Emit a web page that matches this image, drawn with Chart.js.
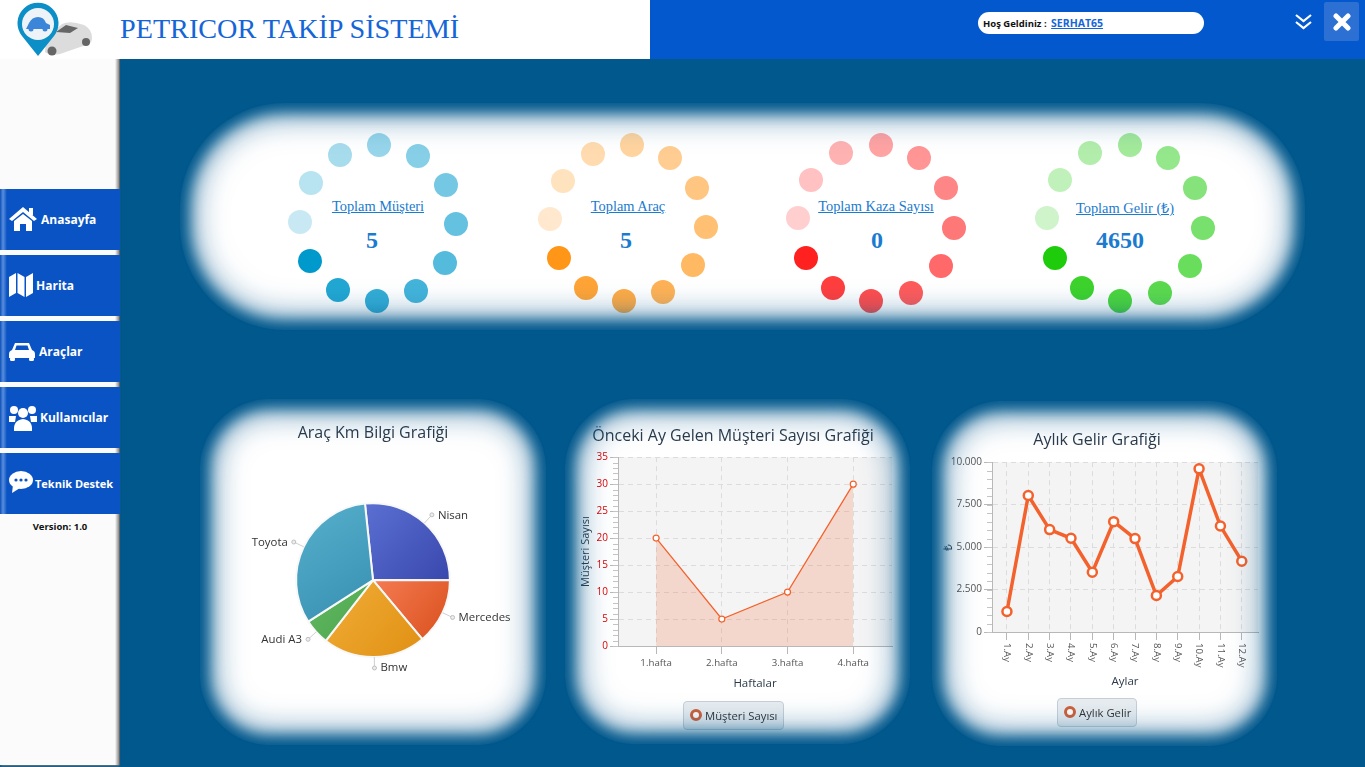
<!DOCTYPE html>
<html>
<head>
<meta charset="utf-8">
<title>Petricor Takip Sistemi</title>
<script src="https://cdn.jsdelivr.net/npm/chart.js@4"></script>
<style>
html,body{margin:0;padding:0;width:1365px;height:767px;overflow:hidden;background:#00588c;font-family:"Open Sans",sans-serif}
.abs{position:absolute}
#headLeft{position:absolute;left:0;top:0;width:650px;height:59px;background:#fff}
#headRight{position:absolute;left:650px;top:0;width:715px;height:59px;background:#0258cc}
#appTitle{position:absolute;left:120px;top:13px;font:28.2px "Liberation Serif",serif;color:#1565d8;white-space:nowrap}
#pill{position:absolute;left:978px;top:12px;width:226px;height:22px;border-radius:11px;background:#fff;font-size:9.5px;font-weight:700;color:#111;line-height:22px;text-indent:5px;white-space:nowrap}
#pill a{color:#1565d8;text-decoration:underline;font-size:10.5px;margin-left:2px}
#closeBtn{position:absolute;left:1324px;top:2px;width:35px;height:39px;background:#2b70d2;border-radius:2px}
#side{position:absolute;left:0;top:59px;width:120px;height:706px;background:linear-gradient(90deg,#fbfbfb 0,#fbfbfb 115px,#8a8a8a 119px,#444 120px);box-shadow:0 2px 2px -1px #777}
.nav{position:absolute;left:0;width:120px;height:61px;background:linear-gradient(90deg,#0a50bb 0,#5b8edc 3px,#0a53c4 7px,#0a53c4 100%);color:#fff;font-weight:700;font-size:12px;line-height:61px;white-space:nowrap}
.nav svg{position:absolute;left:9px;top:17px}
.nav span{position:absolute}
#version{position:absolute;left:0;top:520px;width:120px;text-align:center;font-size:9.5px;font-weight:700;color:#111}
.panel{position:absolute;background:#fff}
.shade{position:absolute;left:-1px;top:-1px;right:-1px;bottom:-1px;border-radius:inherit;pointer-events:none;box-shadow:inset 0 0 14px 10px #00588c,inset 0 0 30px 16px rgba(0,88,140,.55)}
.dot{position:absolute;width:24px;height:24px;border-radius:50%}
.statName{position:absolute;width:180px;text-align:center;font:14.4px "Liberation Serif",serif;color:#1a7bcf;text-decoration:underline;white-space:nowrap}
.statVal{position:absolute;width:120px;text-align:center;font:bold 24px "Liberation Serif",serif;color:#1a7bcf}
canvas{position:absolute}
.legendBox{position:absolute;height:27px;line-height:27px;border:1px solid #c6d0d8;border-radius:4px;background:rgba(205,215,222,.45);font-size:11.3px;color:#333;white-space:nowrap}
.legendBox i{position:absolute;left:6px;top:7px;box-sizing:border-box;width:12px;height:12px;border-radius:50%;border:3px solid #d0603a;background:#fff}
.legendBox span{position:absolute;left:21px}
</style>
</head>
<body>
<div id="headLeft">
<svg class="abs" style="left:0;top:0" width="100" height="59" viewBox="0 0 100 59">
<path d="M46 38 L62 24 Q70 20 84 25 Q92 29 92 38 Q92 44 86 45 L60 54 Q50 56 45 52Z" fill="#dcdcdc"/>
<path d="M56 32 L66 25 L78 28 L70 33Z" fill="#666"/>
<circle cx="52" cy="51" r="4.5" fill="#666"/><circle cx="86" cy="42" r="4" fill="#666"/>
<path d="M38 56 L22 36 A20.5 20.5 0 1 1 54 36Z" fill="#0b8fc6"/>
<circle cx="38" cy="24" r="16" fill="#eef3f7"/>
<path d="M26 29 L29 23 Q32 17 38 17 Q44 17 46 23 L50 25 L50 29Z" fill="#3b86d8"/>
<circle cx="31" cy="29" r="2.5" fill="#3b86d8"/><circle cx="45" cy="29" r="2.5" fill="#3b86d8"/>
</svg>
<div id="appTitle">PETRICOR TAKİP SİSTEMİ</div>
</div>
<div id="headRight"></div>
<div id="pill">Hoş Geldiniz : <a>SERHAT65</a></div>
<svg class="abs" style="left:1294px;top:13px" width="19" height="18" viewBox="0 0 19 18" fill="none" stroke="#fff" stroke-width="2.2"><path d="M2 2 L9.5 8 L17 2"/><path d="M2 9 L9.5 15 L17 9"/></svg>
<div id="closeBtn"><svg class="abs" style="left:9px;top:11px" width="18" height="18" viewBox="0 0 18 18" stroke="#fff" stroke-width="5" stroke-linecap="round"><path d="M3 3 L15 15 M15 3 L3 15"/></svg></div>

<div id="side"></div>
<div id="navs"></div>
<div id="version">Version: 1.0</div>

<div class="panel" id="statPanel" style="left:180px;top:103px;width:1125px;height:227px;border-radius:105px"></div>

<div class="panel" style="left:200px;top:399px;width:346px;height:346px;border-radius:70px">
<canvas id="pieChart" width="330" height="330" style="left:10px;top:11px"></canvas>
<div class="shade"></div>
</div>
<div class="panel" style="left:565px;top:399px;width:345px;height:345px;border-radius:70px">
<canvas id="customerChart" width="340" height="330" style="left:5px;top:11px"></canvas>
<div class="legendBox" id="customerLegend" style="left:118px;top:302px;width:99px"></div>
<div class="shade"></div>
</div>
<div class="panel" style="left:932px;top:401px;width:345px;height:345px;border-radius:70px">
<canvas id="incomeChart" width="340" height="330" style="left:-2px;top:9px"></canvas>
<div class="legendBox" id="incomeLegend" style="left:125px;top:297px;width:78px"></div>
<div class="shade"></div>
</div>

<script>
// top row
const statNames = ['Toplam Müşteri', 'Toplam Araç', 'Toplam Kaza Sayısı', 'Toplam Gelir (₺)']
const statValues = ['5', '5', '0', '4650']
const statColors = ['#0099cc', '#ff9617', '#ff2020', '#1fcc0c']

// sidebar
const navNames = ['Anasayfa', 'Harita', 'Araçlar', 'Kullanıcılar', 'Teknik Destek']

// pie
const pieTitle = 'Araç Km Bilgi Grafiği'
const pieLabels = ['Nisan', 'Mercedes', 'Bmw', 'Audi A3', 'Toyota']
const pieValues = [26.7, 13.9, 21.6, 5.4, 32.4]
const pieLight = ['#5b70d2', '#f57b52', '#f2ad38', '#62bb62', '#57b0cc']
const pieDark = ['#3947ad', '#d94f1c', '#df9012', '#4ca54c', '#368fb1']

// customers per week
const customerTitle = 'Önceki Ay Gelen Müşteri Sayısı Grafiği'
const weekLabels = ['1.hafta', '2.hafta', '3.hafta', '4.hafta']
const customerValues = [20, 5, 10, 30]
const customerSeries = 'Müşteri Sayısı'

// monthly income
const incomeTitle = 'Aylık Gelir Grafiği'
const monthLabels = ['1.Ay', '2.Ay', '3.Ay', '4.Ay', '5.Ay', '6.Ay', '7.Ay', '8.Ay', '9.Ay', '10.Ay', '11.Ay', '12.Ay']
const incomeValues = [1210, 8040, 6030, 5520, 3520, 6500, 5500, 2150, 3270, 9610, 6240, 4170]
const incomeSeries = 'Aylık Gelir'

const orange = '#f3622d'
const fontName = '"Open Sans", sans-serif'

var navIcons = [
    '<svg width="28" height="26" viewBox="0 0 28 26" fill="#fff"><path d="M14 1 L28 13 L25 15 L14 6 L3 15 L0 13Z"/><path d="M5 15 L14 8 L23 15 V25 H17 V18 H11 V25 H5Z"/><rect x="20" y="2" width="4" height="7"/></svg>',
    '<svg width="24" height="26" viewBox="0 0 24 26" fill="#fff"><path d="M0 5 L7 1 V21 L0 25Z"/><path d="M8.5 1 L15.5 5 V25 L8.5 21Z"/><path d="M17 5 L24 1 V21 L17 25Z"/></svg>',
    '<svg width="26" height="26" viewBox="0 0 26 26" fill="#fff"><path d="M6 5 H20 L23 12 Q26 13 26 16 V20 H0 V16 Q0 13 3 12Z M7.5 7.5 L6 12 H20 L18.5 7.5Z" fill-rule="evenodd"/><rect x="1" y="19" width="5" height="4" rx="1.5"/><rect x="20" y="19" width="5" height="4" rx="1.5"/></svg>',
    '<svg width="28" height="28" viewBox="0 0 28 28" fill="#fff"><circle cx="5" cy="6" r="4"/><circle cx="23" cy="6" r="4"/><circle cx="14" cy="9" r="5"/><path d="M0 12 H7 L6 18 H0Z"/><path d="M28 12 H21 L22 18 H28Z"/><path d="M5 27 Q4 16 14 15 Q24 16 23 27Z"/></svg>',
    '<svg width="24" height="24" viewBox="0 0 24 24"><ellipse cx="12" cy="10" rx="12" ry="9" fill="#fff"/><path d="M4 15 L3 23 L11 18Z" fill="#fff"/><circle cx="7" cy="10" r="1.6" fill="#0a53c4"/><circle cx="12" cy="10" r="1.6" fill="#0a53c4"/><circle cx="17" cy="10" r="1.6" fill="#0a53c4"/></svg>'
]
var navTextLeft = [41, 36, 39, 40, 35]

function buildNav() {
    var html = ''
    for (var i = 0; i < navNames.length; i++) {
        html += `<div class="nav" style="top:${189 + i * 66}px">${navIcons[i]}<span style="left:${navTextLeft[i]}px;${i == 4 ? 'font-size:11px' : ''}">${navNames[i]}</span></div>`
    }
    document.getElementById('navs').innerHTML = html
}

function buildStats() {
    var panel = document.getElementById('statPanel')
    var centers = [378, 628, 876, 1125]
    var valueCenters = [372, 626, 877, 1120]
    var start = [151, 153, 153.5, 153.5]
    var html = ''
    for (var i = 0; i < 4; i++) {
        var cx = centers[i] - 180
        var cy = 223 - 103
        for (var d = 0; d < 12; d++) {
            // bright dot first, fading counterclockwise round the ring
            var a = (start[i] - d * 30) * Math.PI / 180
            var x = cx + 78 * Math.cos(a)
            var y = cy + 78 * Math.sin(a)
            var op = d == 0 ? 1 : 0.93 - d * 0.065
            html += `<div class="dot" style="left:${x - 12}px;top:${y - 12}px;background:${statColors[i]};opacity:${op}"></div>`
        }
        html += `<div class="statName" style="left:${cx - 90}px;top:${198 - 103}px">${statNames[i]}</div>`
        html += `<div class="statVal" style="left:${valueCenters[i] - 180 - 60}px;top:${227 - 103}px">${statValues[i]}</div>`
    }
    html += '<div class="shade"></div>'
    panel.innerHTML = html
}

// gradient across the bounding box of one slice
function sliceGradient(ctx) {
    var chart = ctx.chart
    var area = chart.chartArea
    var i = ctx.dataIndex
    if (!area || i === undefined) return pieLight[0]
    var cx = (area.left + area.right) / 2
    var cy = (area.top + area.bottom) / 2
    var r = Math.min(area.width, area.height) / 2
    var sum = 0
    var total = 0
    for (var k = 0; k < pieValues.length; k++) total += pieValues[k]
    for (var k = 0; k < i; k++) sum += pieValues[k]
    var a0 = (-6 + sum / total * 360 - 90) * Math.PI / 180
    var a1 = a0 + pieValues[i] / total * Math.PI * 2
    var x0 = cx, x1 = cx, y0 = cy, y1 = cy
    for (var s = 0; s <= 20; s++) {
        var a = a0 + (a1 - a0) * s / 20
        x0 = Math.min(x0, cx + r * Math.cos(a))
        x1 = Math.max(x1, cx + r * Math.cos(a))
        y0 = Math.min(y0, cy + r * Math.sin(a))
        y1 = Math.max(y1, cy + r * Math.sin(a))
    }
    var g = chart.ctx.createLinearGradient(x0, y0, x1, y1)
    g.addColorStop(0, pieLight[i])
    g.addColorStop(1, pieDark[i])
    return g
}

// leader lines and names round the pie
const pieCallouts = {
    id: 'pieCallouts',
    afterDatasetsDraw(chart) {
        var ctx = chart.ctx
        var arcs = chart.getDatasetMeta(0).data
        ctx.save()
        ctx.font = '11.4px ' + fontName
        ctx.textBaseline = 'middle'
        for (var i = 0; i < arcs.length; i++) {
            var arc = arcs[i]
            var mid = (arc.startAngle + arc.endAngle) / 2
            var c = Math.cos(mid)
            var s = Math.sin(mid)
            var r = arc.outerRadius
            var dx = arc.x + (r + 11) * c
            var dy = arc.y + (r + 11) * s
            ctx.strokeStyle = '#cfcfcf'
            ctx.lineWidth = 1
            ctx.beginPath()
            ctx.moveTo(arc.x + r * c, arc.y + r * s)
            ctx.lineTo(dx, dy)
            ctx.stroke()
            ctx.fillStyle = '#eeeeee'
            ctx.strokeStyle = '#bdbdbd'
            ctx.beginPath()
            ctx.arc(dx, dy, 2, 0, Math.PI * 2)
            ctx.fill()
            ctx.stroke()
            ctx.fillStyle = '#333'
            ctx.textAlign = c < -0.05 ? 'right' : 'left'
            ctx.fillText(pieLabels[i], dx + (c < -0.05 ? -6 : 6), dy + (s < 0 ? 1 : 0))
        }
        ctx.restore()
    }
}

const plotBackground = {
    id: 'plotBackground',
    beforeDraw(chart) {
        var a = chart.chartArea
        chart.ctx.save()
        chart.ctx.fillStyle = '#f4f4f4'
        chart.ctx.fillRect(a.left, a.top, a.width, a.height)
        chart.ctx.restore()
    }
}

// small ticks between the labelled ones on the y axis
const minorTicks = {
    id: 'minorTicks',
    afterDraw(chart, args, opts) {
        var scale = chart.scales.y
        var ctx = chart.ctx
        ctx.save()
        ctx.strokeStyle = '#c4c4c4'
        ctx.lineWidth = 1
        ctx.beginPath()
        for (var v = scale.min; v <= scale.max; v += opts.step) {
            var y = Math.round(scale.getPixelForValue(v)) + 0.5
            ctx.moveTo(scale.right - 5, y)
            ctx.lineTo(scale.right, y)
        }
        ctx.stroke()
        ctx.restore()
    }
}

function lineOptions(o) {
    return {
        responsive: false,
        animation: false,
        layout: { padding: { left: o.left, right: o.right } },
        plugins: {
            legend: { display: false },
            tooltip: { enabled: false },
            title: { display: true, text: o.title, color: '#2b3a4a', font: { family: fontName, size: 16, weight: 'normal' }, padding: o.titlePad },
            minorTicks: { step: o.minor }
        },
        scales: {
            x: {
                type: 'linear',
                min: o.xMin,
                max: o.xMax,
                afterBuildTicks(scale) {
                    scale.ticks = o.labels.map((t, i) => ({ value: i }))
                },
                afterFit(scale) {
                    scale.height = o.xHeight
                    // rotated clockwise, so labels hang down from the tick
                    if (o.rotate) scale._getXAxisLabelAlignment = () => 'left'
                },
                grid: { color: '#dcdcdc', tickColor: '#b8b8b8', tickLength: 8 },
                border: { color: '#b8b8b8', dash: [5, 4] },
                ticks: {
                    color: '#555',
                    font: { family: fontName, size: 9.7 },
                    padding: 3,
                    autoSkip: false,
                    minRotation: o.rotate,
                    maxRotation: o.rotate,
                    callback(v) { return o.labels[v] }
                },
                title: { display: true, text: o.xName, color: '#2b3a4a', font: { family: fontName, size: 11.5 }, padding: { top: 4, bottom: o.xTitleBottom } }
            },
            y: {
                min: 0,
                max: o.yMax,
                afterFit(scale) { scale.width = o.yWidth },
                grid: { color: '#dcdcdc', tickColor: '#b8b8b8', tickLength: 8 },
                border: { color: '#b8b8b8', dash: [5, 4] },
                ticks: {
                    color: o.yColor,
                    stepSize: o.yStep,
                    font: { family: fontName, size: 10 },
                    padding: 2,
                    callback(v) { return v.toLocaleString('tr-TR') }
                },
                title: { display: true, text: o.yName, color: '#2b3a4a', font: { family: fontName, size: o.yNameSize }, padding: { top: o.yTitleTop, bottom: 0 } }
            }
        }
    }
}

function pieChart() {
    new Chart(document.getElementById('pieChart'), {
        type: 'pie',
        data: {
            labels: pieLabels,
            datasets: [{ data: pieValues, backgroundColor: sliceGradient, borderColor: '#f8f8f8', borderWidth: 2 }]
        },
        plugins: [pieCallouts],
        options: {
            responsive: false,
            animation: false,
            rotation: -6,
            layout: { padding: { left: 85, right: 89, top: 0, bottom: 82 } },
            plugins: {
                legend: { display: false },
                tooltip: { enabled: false },
                title: { display: true, text: pieTitle, color: '#2b3a4a', font: { family: fontName, size: 16, weight: 'normal' }, padding: { top: 14, bottom: 59 } }
            }
        }
    })
}

function customerChart() {
    new Chart(document.getElementById('customerChart'), {
        type: 'line',
        data: {
            datasets: [{
                label: customerSeries,
                data: customerValues.map((v, i) => ({ x: i, y: v })),
                borderColor: orange,
                borderWidth: 1.3,
                backgroundColor: 'rgba(243,98,45,0.2)',
                fill: 'origin',
                tension: 0,
                pointRadius: 3,
                pointBorderWidth: 1.2,
                pointBackgroundColor: '#fff',
                pointBorderColor: orange
            }]
        },
        plugins: [plotBackground, minorTicks],
        options: lineOptions({
            title: customerTitle, labels: weekLabels, xMin: -0.58, xMax: 3.59, yMax: 35, yStep: 5, yColor: '#e00000',
            xName: 'Haftalar', yName: 'Müşteri Sayısı', yNameSize: 11, yWidth: 44, xHeight: 94, left: 4, right: 18,
            titlePad: { top: 17, bottom: 11 }, minor: 1, rotate: 0, xTitleBottom: 49, yTitleTop: 5
        })
    })
}

function incomeChart() {
    new Chart(document.getElementById('incomeChart'), {
        type: 'line',
        data: {
            datasets: [{
                label: incomeSeries,
                data: incomeValues.map((v, i) => ({ x: i, y: v })),
                borderColor: orange,
                borderWidth: 3.5,
                fill: false,
                tension: 0,
                pointRadius: 4.5,
                pointBorderWidth: 2.5,
                pointBackgroundColor: '#fff',
                pointBorderColor: orange
            }]
        },
        plugins: [plotBackground, minorTicks],
        options: lineOptions({
            title: incomeTitle, labels: monthLabels, xMin: -0.7, xMax: 11.76, yMax: 10000, yStep: 2500, yColor: '#555',
            xName: 'Aylar', yName: '₺', yNameSize: 12, yWidth: 56, xHeight: 108, left: 6, right: 12,
            titlePad: { top: 21, bottom: 12 }, minor: 500, rotate: -90, xTitleBottom: 51, yTitleTop: 5
        })
    })
}

function legends() {
    document.getElementById('customerLegend').innerHTML = '<i></i><span>' + customerSeries + '</span>'
    document.getElementById('incomeLegend').innerHTML = '<i></i><span>' + incomeSeries + '</span>'
}

buildNav()
buildStats()
legends()
pieChart()
customerChart()
incomeChart()
</script>
</body>
</html>
